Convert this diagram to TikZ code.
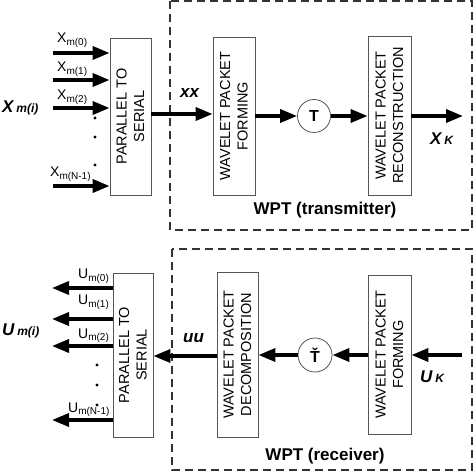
\documentclass[tikz,border=0pt]{standalone}
\usepackage{fontspec}
\setmainfont{Liberation Sans}
\usepackage{xcolor}
\usetikzlibrary{arrows.meta, positioning, calc}
\definecolor{wptgray}{HTML}{555555}
\definecolor{wptdash}{HTML}{333333}
\tikzset{
    % Vertical block with rotated text
    wptblock/.style={
        rectangle,
        draw=wptgray,
        line width=0.8pt,
        fill=white,
        rotate=90,
        font=\fontsize{14.5}{17.5}\selectfont,
        align=center,
        inner sep=1pt
    },
    % Operator circle
    opnode/.style={
        circle,
        draw=wptgray,
        line width=0.8pt,
        fill=white,
        minimum size=33pt,
        inner sep=0pt,
        font=\fontsize{16}{16}\selectfont\bfseries
    },
    % Dashed group frame
    groupframe/.style={
        draw=wptdash,
        line width=1.8pt,
        dash pattern=on 8pt off 5pt
    },
    % Thick arrow
    bigarrow/.style={
        -{Triangle[length=17pt,width=13pt]},
        line width=3.5pt,
        color=black
    },
    % Channel labels
    chanlabel/.style={
        anchor=base west,
        inner sep=0pt,
        font=\fontsize{14}{14}\selectfont
    },
    % Signal labels
    siglabel/.style={
        anchor=base west,
        inner sep=0pt,
        font=\fontsize{17}{17}\selectfont\bfseries\itshape
    },
    grouplabel/.style={
        anchor=base,
        inner sep=0pt,
        font=\fontsize{17}{17}\selectfont\bfseries
    }
}
\newcommand{\chsub}[2]{#1\textsubscript{\fontsize{10}{10}\selectfont #2}}
\begin{document}
\begin{tikzpicture}[x=1pt, y=-1pt]

    \useasboundingbox (0,0) rectangle (474,473);

    % Transmitter frame
    \draw[groupframe] (170,1) rectangle (472,230);
    \node[grouplabel] (txlabel) at (325,215) {WPT (transmitter)};

    % Transmitter blocks (rotated: north = left side, south = right side)
    \node[wptblock, minimum width=157pt, minimum height=41pt] (p2sT) at (130.5,116.5) {PARALLEL TO\\SERIAL};
    \node[wptblock, minimum width=158pt, minimum height=42pt] (wpfT) at (234,116) {WAVELET PACKET\\FORMING};
    \node[opnode] (tT) at (314,116) {T};
    \node[wptblock, minimum width=159pt, minimum height=43pt] (wprT) at (389.5,115.5) {WAVELET PACKET\\RECONSTRUCTION};

    % Transmitter inputs
    \coordinate (in0) at (53,53);
    \coordinate (in1) at (53,80);
    \coordinate (in2) at (53,108);
    \coordinate (in3) at (53,186);
    \foreach \i in {0,...,3}
        \draw[bigarrow] (in\i) -- (in\i -| p2sT.north);
    \node[chanlabel] (lx0) at (57,43) {\chsub{X}{m(0)}};
    \node[chanlabel] (lx1) at (57,72) {\chsub{X}{m(1)}};
    \node[chanlabel] (lx2) at (57,100) {\chsub{X}{m(2)}};
    \node[chanlabel] (lx3) at (50,177) {\chsub{X}{m(N-1)}};
    \foreach \y in {118,137,165}
        \fill (95,\y) circle (1.6pt);
    \node[siglabel] (xmi) at (2,113) {X\,\fontsize{12}{12}\selectfont m(i)};

    % Transmitter chain
    \draw[bigarrow] (p2sT.south |- 0,114) -- (wpfT.north |- 0,114);
    \node[siglabel] (xx) at (180,98) {xx};
    \draw[bigarrow] (wpfT.south |- tT) -- (tT);
    \draw[bigarrow] (tT) -- (wprT.north |- tT);
    \coordinate (xkend) at (463,116);
    \draw[bigarrow] (wprT.south |- xkend) -- (xkend);
    \node[siglabel] (xk) at (430,145) {X\,\fontsize{12}{12}\selectfont K};

    % Receiver frame
    \draw[groupframe] (172,249) rectangle (472,470);
    \node[grouplabel] (rxlabel) at (325,460) {WPT (receiver)};

    % Receiver blocks
    \node[wptblock, minimum width=164pt, minimum height=40pt] (p2sR) at (133,355) {PARALLEL TO\\SERIAL};
    \node[wptblock, minimum width=165pt, minimum height=41pt] (wpdR) at (237.5,354.5) {WAVELET PACKET\\DECOMPOSITION};
    \node[opnode, minimum size=34pt] (tR) at (315,355) {Ť};
    \node[wptblock, minimum width=159pt, minimum height=43pt] (wpfR) at (389.5,354.5) {WAVELET PACKET\\FORMING};

    % Receiver chain
    \coordinate (ukstart) at (462,355);
    \draw[bigarrow] (ukstart) -- (wpfR.south |- ukstart);
    \node[siglabel] (uk) at (420,382) {U\,\fontsize{12}{12}\selectfont K};
    \draw[bigarrow] (wpfR.north |- tR) -- (tR);
    \draw[bigarrow] (tR) -- (wpdR.south |- tR);
    \draw[bigarrow] (wpdR.north |- 0,356) -- (p2sR.south |- 0,356);
    \node[siglabel] (uu) at (183,342) {uu};

    % Receiver outputs
    \coordinate (out0) at (52,288);
    \coordinate (out1) at (52,319);
    \coordinate (out2) at (52,346);
    \coordinate (out3) at (52,420);
    \foreach \i in {0,...,3}
        \draw[bigarrow] (out\i -| p2sR.north) -- (out\i);
    \node[chanlabel] (lu0) at (78,279) {\chsub{U}{m(0)}};
    \node[chanlabel] (lu1) at (78,305) {\chsub{U}{m(1)}};
    \node[chanlabel] (lu2) at (78,338) {\chsub{U}{m(2)}};
    \node[chanlabel] (lu3) at (68,412) {\chsub{U}{m(N-1)}};
    \foreach \y in {365,385,405}
        \fill (97,\y) circle (1.6pt);
    \node[siglabel] (umi) at (2,335) {U\,\fontsize{12}{12}\selectfont m(i)};

\end{tikzpicture}
\end{document}
